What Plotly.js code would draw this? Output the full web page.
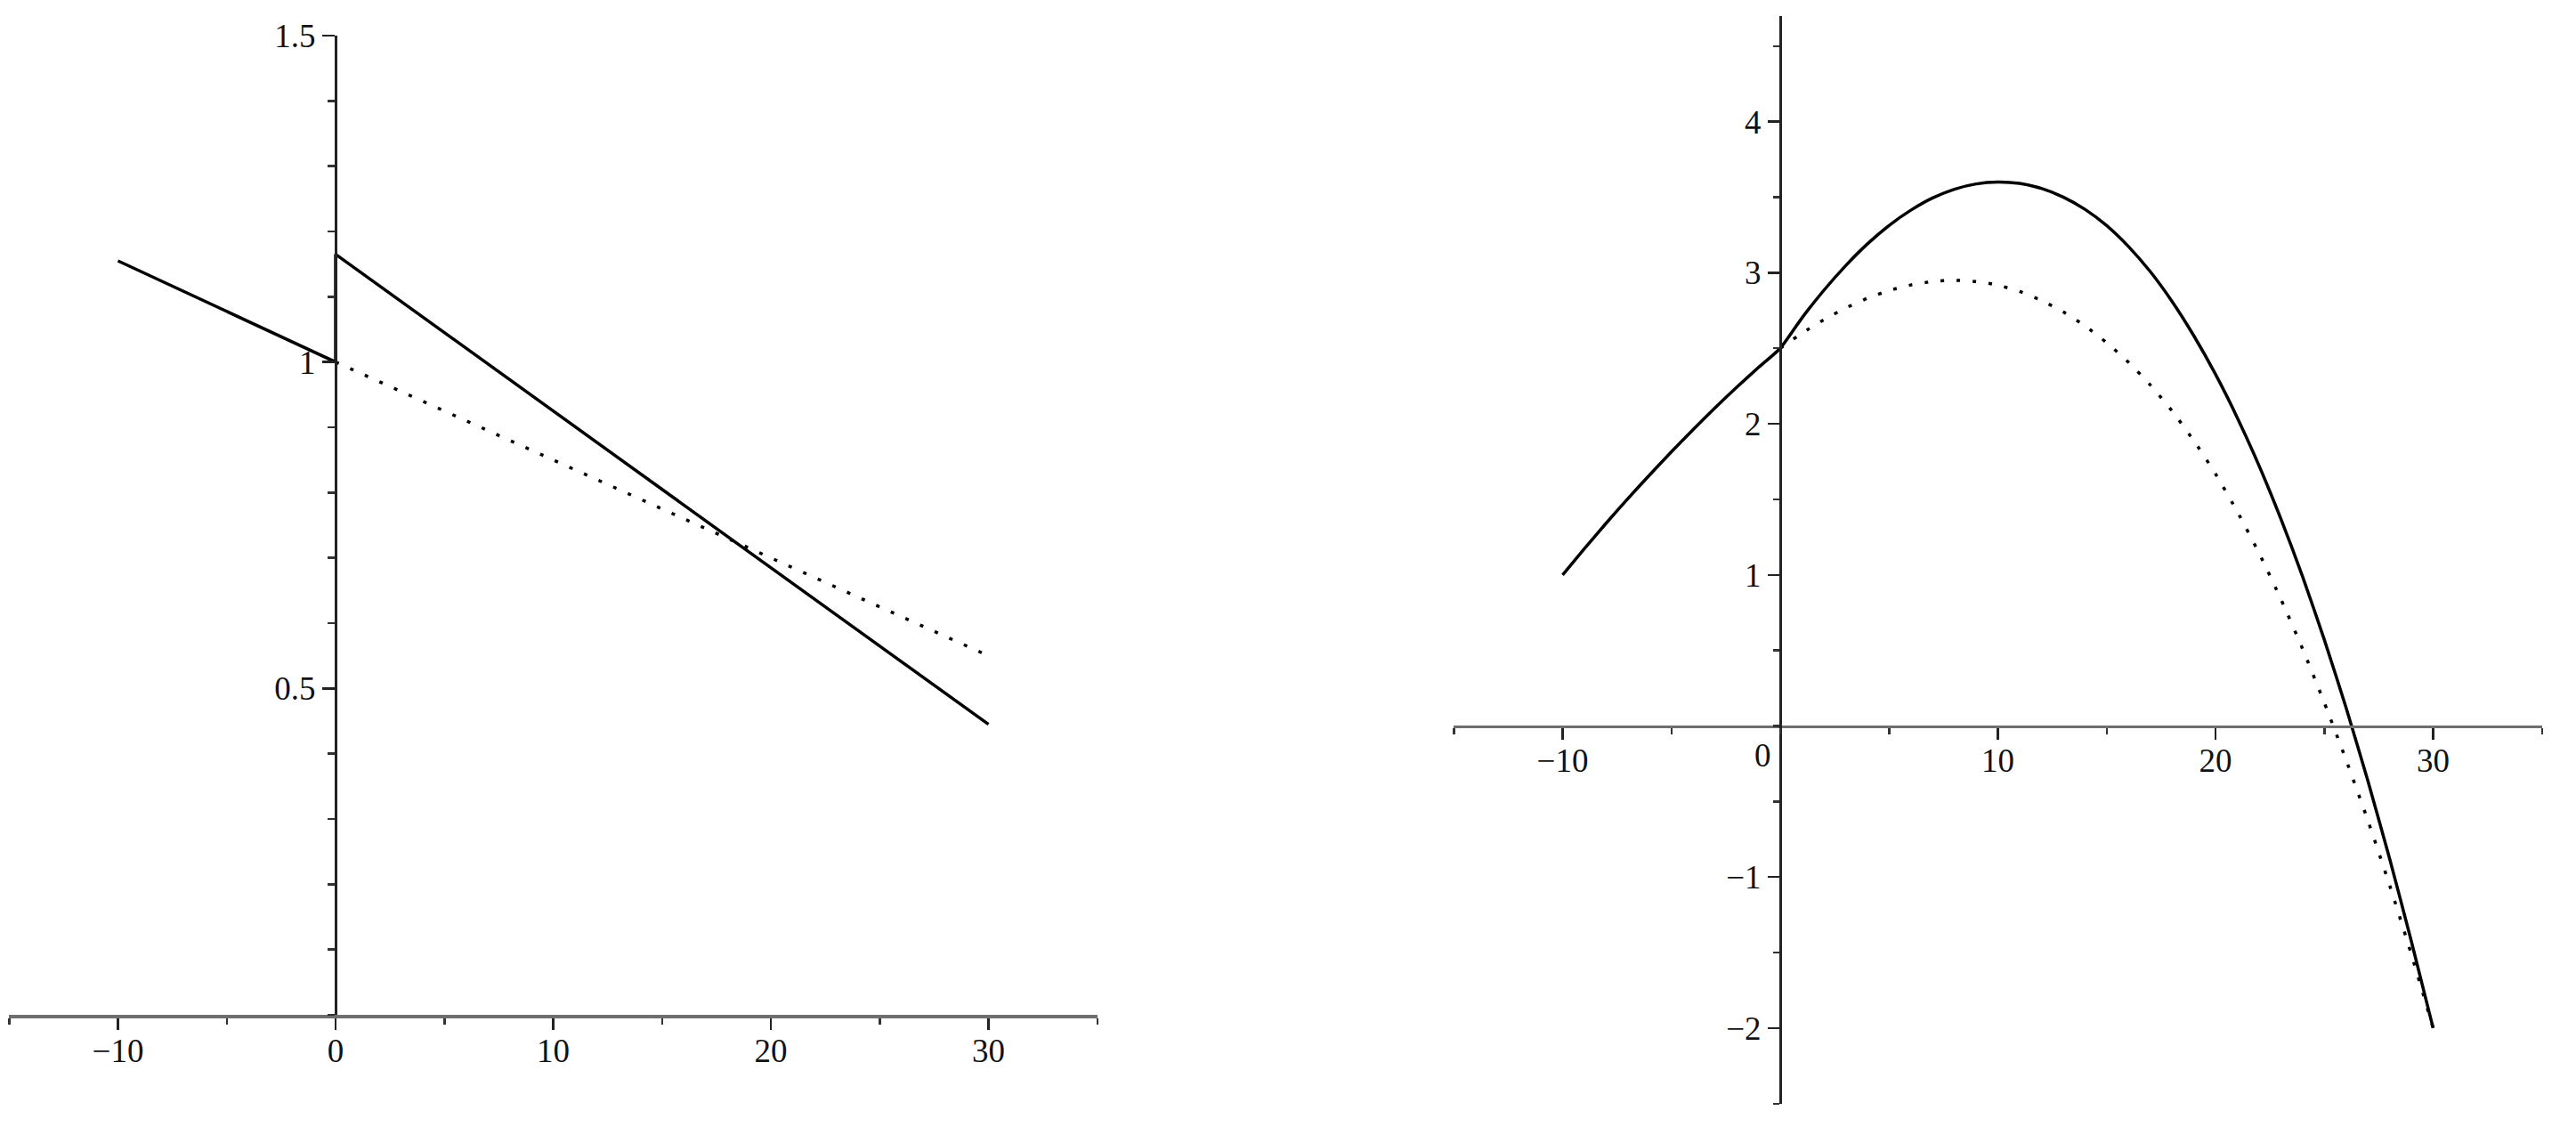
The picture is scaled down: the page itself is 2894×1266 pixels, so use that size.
<!DOCTYPE html>
<html>
<head>
<meta charset="utf-8">
<script src="https://cdn.plot.ly/plotly-3.0.1.min.js"></script>
<style>
  html, body { margin: 0; padding: 0; background: #ffffff; }
  #chart { width: 2894px; height: 1266px; }
</style>
</head>
<body>
<div id="chart"></div>
<script>
// ---------- Left panel data ----------
const leftSolidX = [-10, 0, 0, 30];
const leftSolidY = [1.155, 1.0, 1.165, 0.445];
const leftDottedX = [0, 10, 20, 30];
const leftDottedY = [1.0, 0.85, 0.70, 0.55];

// ---------- Right panel data ----------
const rightSolidX = [-10, -9, -8, -7, -6, -5, -4, -3, -2, -1, 0,
  1, 2, 3, 4, 5, 6, 7, 8, 9, 10, 11, 12, 13, 14, 15, 16, 17, 18, 19, 20,
  21, 22, 23, 24, 25, 26, 27, 28, 29, 30];
const rightSolidY = [1.0, 1.173, 1.342, 1.505, 1.662, 1.815, 1.962, 2.105, 2.242, 2.373, 2.5,
  2.701, 2.883, 3.046, 3.19, 3.313, 3.414, 3.495, 3.553, 3.588, 3.6,
  3.591, 3.558, 3.501, 3.42, 3.312, 3.174, 3.008, 2.811, 2.584, 2.328,
  2.041, 1.723, 1.372, 0.989, 0.571, 0.121, -0.363, -0.878, -1.426, -2.0];
const rightDottedX = [0, 1, 2, 3, 4, 5, 6, 7, 8, 9, 10, 11, 12, 13, 14, 15,
  16, 17, 18, 19, 20, 21, 22, 23, 24, 25, 26, 27, 28, 29, 30];
const rightDottedY = [2.5, 2.6, 2.689, 2.766, 2.831, 2.882, 2.919, 2.942, 2.95, 2.942, 2.918,
  2.876, 2.817, 2.741, 2.649, 2.537, 2.408, 2.258, 2.086, 1.889, 1.669,
  1.419, 1.144, 0.841, 0.511, 0.154, -0.225, -0.625, -1.054, -1.512, -2.0];

// ---------- Tick labels ----------
const leftXTickVals = [-10, 0, 10, 20, 30];
const leftXTickText = ['\u221210', '0', '10', '20', '30'];
const leftYTickVals = [0.5, 1, 1.5];
const leftYTickText = ['0.5', '1', '1.5'];
const rightXTickVals = [-10, 10, 20, 30];
const rightXTickText = ['\u221210', '10', '20', '30'];
const rightYTickVals = [-2, -1, 1, 2, 3, 4];
const rightYTickText = ['\u22122', '\u22121', '1', '2', '3', '4'];
const originLabel = '0';

// ---------- Geometry (pixel layout on a 2894 x 1266 canvas) ----------
const W = 2894, H = 1266;
const px = v => v / W;
const py = v => (H - v) / H;

const tickFont = { family: 'Liberation Serif, Times New Roman, serif', size: 37, color: '#111111' };

const traces = [
  { x: leftSolidX, y: leftSolidY, xaxis: 'x', yaxis: 'y', mode: 'lines',
    line: { color: '#000000', width: 3.5 }, hoverinfo: 'skip' },
  { x: leftDottedX, y: leftDottedY, xaxis: 'x', yaxis: 'y', mode: 'lines',
    line: { color: '#000000', width: 3.5, dash: '4px,14px' }, hoverinfo: 'skip' },
  { x: rightSolidX, y: rightSolidY, xaxis: 'x2', yaxis: 'y2', mode: 'lines',
    line: { color: '#000000', width: 3.5, shape: 'spline', smoothing: 0.6 }, hoverinfo: 'skip' },
  { x: rightDottedX, y: rightDottedY, xaxis: 'x2', yaxis: 'y2', mode: 'lines',
    line: { color: '#000000', width: 3.5, dash: '4px,14px', shape: 'spline', smoothing: 0.6 }, hoverinfo: 'skip' }
];

const commonAxis = {
  showgrid: false, zeroline: false, showline: true,
  ticks: 'outside', tickwidth: 2.5, tickcolor: '#222222',
  tickfont: tickFont, fixedrange: true
};

const layout = {
  width: W, height: H,
  margin: { l: 0, r: 0, t: 0, b: 0, pad: 0 },
  paper_bgcolor: '#ffffff', plot_bgcolor: 'rgba(0,0,0,0)',
  showlegend: false,
  xaxis: Object.assign({}, commonAxis, {
    domain: [px(10.25), px(1232.75)], range: [-15, 35], anchor: 'y',
    linecolor: '#6e6e6e', linewidth: 3.5, ticklabelstandoff: -8,
    tickmode: 'array', tickvals: leftXTickVals, ticktext: leftXTickText, ticklen: 13,
    minor: { dtick: 5, tick0: 0, ticks: 'outside', ticklen: 7, tickwidth: 2.5, tickcolor: '#333333' }
  }),
  yaxis: Object.assign({}, commonAxis, {
    domain: [py(1140), py(40)], range: [0, 1.5], anchor: 'free', position: px(377),
    linecolor: '#222222', linewidth: 2.5,
    tickmode: 'array', tickvals: leftYTickVals, ticktext: leftYTickText, ticklen: 14,
    minor: { dtick: 0.1, tick0: 0, ticks: 'outside', ticklen: 8, tickwidth: 2.5, tickcolor: '#333333' }
  }),
  xaxis2: Object.assign({}, commonAxis, {
    domain: [px(1633.25), px(2855.75)], range: [-15, 35], anchor: 'free', position: py(815.5),
    linecolor: '#6e6e6e', linewidth: 3.5, ticklabelstandoff: -8,
    tickmode: 'array', tickvals: rightXTickVals, ticktext: rightXTickText, ticklen: 13,
    minor: { dtick: 5, tick0: 0, ticks: 'outside', ticklen: 7, tickwidth: 2.5, tickcolor: '#333333' }
  }),
  yaxis2: Object.assign({}, commonAxis, {
    domain: [py(1239.75), py(17.9)], range: [-2.5, 4.7], anchor: 'free', position: px(2000),
    linecolor: '#222222', linewidth: 2.5,
    tickmode: 'array', tickvals: rightYTickVals, ticktext: rightYTickText, ticklen: 13,
    minor: { dtick: 0.5, tick0: 0, ticks: 'outside', ticklen: 7, tickwidth: 2.5, tickcolor: '#333333' }
  }),
  annotations: [
    { xref: 'x2', yref: 'y2', x: 0, y: 0, text: originLabel, showarrow: false,
      xanchor: 'center', yanchor: 'middle', xshift: -20, yshift: -33, font: tickFont }
  ]
};

Plotly.newPlot('chart', traces, layout, { displayModeBar: false, staticPlot: true });
</script>
</body>
</html>
